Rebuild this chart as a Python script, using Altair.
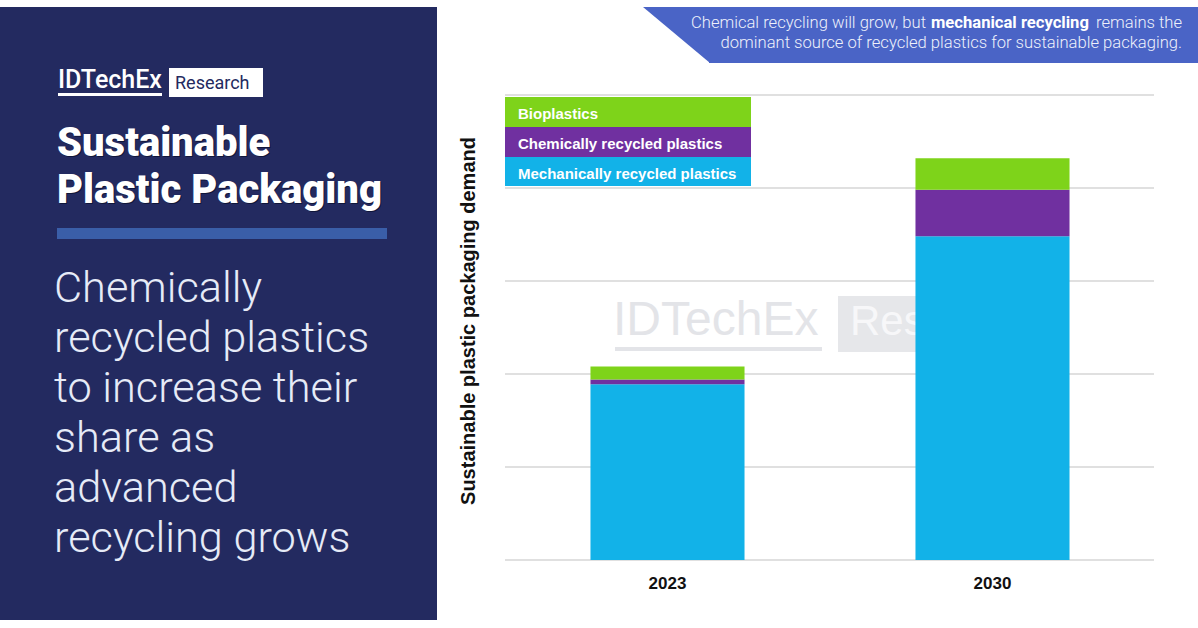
import altair as alt
import pandas as pd

# ---------------- data ----------------
years = ["2023", "2030"]
categories = ["Mechanically recycled plastics", "Chemically recycled plastics", "Bioplastics"]
mechanical = [1.89, 3.48]
chemical = [0.05, 0.50]
bioplastics = [0.14, 0.34]
grid_values = [0, 1, 2, 3, 4, 5]
colors = ["#12b2e8", "#7030a0", "#7ed31a"]

rows = []
for i, y in enumerate(years):
    for k, (cat, vals) in enumerate(zip(categories, [mechanical, chemical, bioplastics])):
        rows.append({"year": y, "category": cat, "value": vals[i], "ord": k})
df = pd.DataFrame(rows)
grid_df = pd.DataFrame({"v": grid_values})
year_df = pd.DataFrame({"year": years})

NAVY = "#232a60"
BANNER = "#4a64c6"
one = alt.Data(values=[{}])

xscale = alt.Scale(domain=years, range=[505, 1155], paddingInner=0.526, paddingOuter=0.263)
yscale = alt.Scale(domain=[0, 5], range=[560, 95], nice=False, zero=True)


def rect(x, x2, y, y2, color):
    return alt.Chart(one).mark_rect(color=color, opacity=1).encode(
        x=alt.value(x), x2=alt.value(x2), y=alt.value(y), y2=alt.value(y2))


def text(t, x, y, size, color, font="Roboto", weight=400, align="left", baseline="alphabetic", angle=0):
    kw = dict(fontSize=size, color=color, font=font, fontWeight=weight, align=align, baseline=baseline)
    if angle:
        kw["angle"] = angle
    return alt.Chart(one).mark_text(**kw).encode(
        x=alt.value(x), y=alt.value(y), text=alt.value(t))


layers = []
# left panel
layers.append(rect(0, 437, 7, 620, NAVY))
layers.append(text("IDTechEx", 58, 88, 25, "white", weight=500))
layers.append(rect(58, 162, 93, 96, "white"))
layers.append(rect(169, 263, 68, 97, "white"))
layers.append(text("Research", 175, 89, 18, NAVY))
# subtle shadow for the title
layers.append(text("Sustainable", 58, 157, 40, "#10163a", weight=900))
layers.append(text("Plastic Packaging", 58, 204, 40, "#10163a", weight=900))
layers.append(text("Sustainable", 57, 156, 40, "white", weight=900))
layers.append(text("Plastic Packaging", 57, 203, 40, "white", weight=900))
layers.append(rect(57, 387, 228, 239, "#3a5ea8"))
body_lines = ["Chemically", "recycled plastics", "to increase their", "share as", "advanced", "recycling grows"]
for i, line in enumerate(body_lines):
    layers.append(text(line, 54, 302 + 50 * i, 43.3, "#e6ebf7", weight=300))

# banner
layers.append(alt.Chart(one).mark_point(
    shape="M-1,-0.836L1,-0.836L1,0.836Z", filled=True, opacity=1, color=BANNER, strokeWidth=0, size=67 * 67
).encode(x=alt.value(676.5), y=alt.value(35)))
layers.append(rect(709, 1198, 7, 63, BANNER))
layers.append(text("Chemical recycling will grow, but", 691, 28, 16.6, "#eef1fb", weight=300))
layers.append(text("mechanical recycling", 931, 28, 16.6, "white", weight=700))
layers.append(text("remains the", 1182, 28, 16.6, "#eef1fb", weight=300, align="right"))
layers.append(text("dominant source of recycled plastics for sustainable packaging.", 1182, 48, 16.6, "#eef1fb",
                   weight=300, align="right"))

# watermark
layers.append(text("IDTechEx", 613, 335, 48, "#e3e4e8", font="Liberation Sans"))
layers.append(rect(615, 822, 347, 351, "#e3e4e8"))
layers.append(rect(838, 930, 296, 352, "#e6e7ea"))
layers.append(text("Res", 850, 335, 42, "#f7f7f9", font="Liberation Sans"))

# gridlines
layers.append(alt.Chart(grid_df).mark_rule(color="#d6d6d6", strokeWidth=1.5).encode(
    y=alt.Y("v:Q", scale=yscale, axis=None), x=alt.value(505), x2=alt.value(1154)))

# bars
layers.append(alt.Chart(df).mark_bar(opacity=1).encode(
    x=alt.X("year:N", scale=xscale, axis=None),
    y=alt.Y("value:Q", stack="zero", scale=yscale, axis=None),
    color=alt.Color("category:N", scale=alt.Scale(domain=categories, range=colors), legend=None),
    order=alt.Order("ord:Q"),
))

# year labels
layers.append(alt.Chart(year_df).mark_text(
    font="Liberation Sans", fontWeight="bold", fontSize=17, color="#111111", baseline="alphabetic"
).encode(x=alt.X("year:N", scale=xscale, axis=None, bandPosition=0.5), y=alt.value(589), text="year:N"))

# legend boxes
legend_tops = [97, 127, 157]
legend_order = [2, 1, 0]
for top, k in zip(legend_tops, legend_order):
    layers.append(rect(505, 751, top, top + 30 if top < 157 else 186, colors[k]))
    layers.append(text(categories[k], 518, top + 17, 15, "white", font="Liberation Sans", weight=700,
                       baseline="middle"))

# y-axis title
layers.append(text("Sustainable plastic packaging demand", 469, 321, 20, "#111111", font="Liberation Sans",
                   weight=700, align="center", baseline="middle", angle=270))

chart = alt.layer(*layers).properties(
    width=1198, height=628, padding=0, autosize=alt.AutoSizeParams(type="none"), background="white"
).configure_view(stroke=None)

chart.save("out.html", embed_options={"renderer": "svg", "actions": False})
